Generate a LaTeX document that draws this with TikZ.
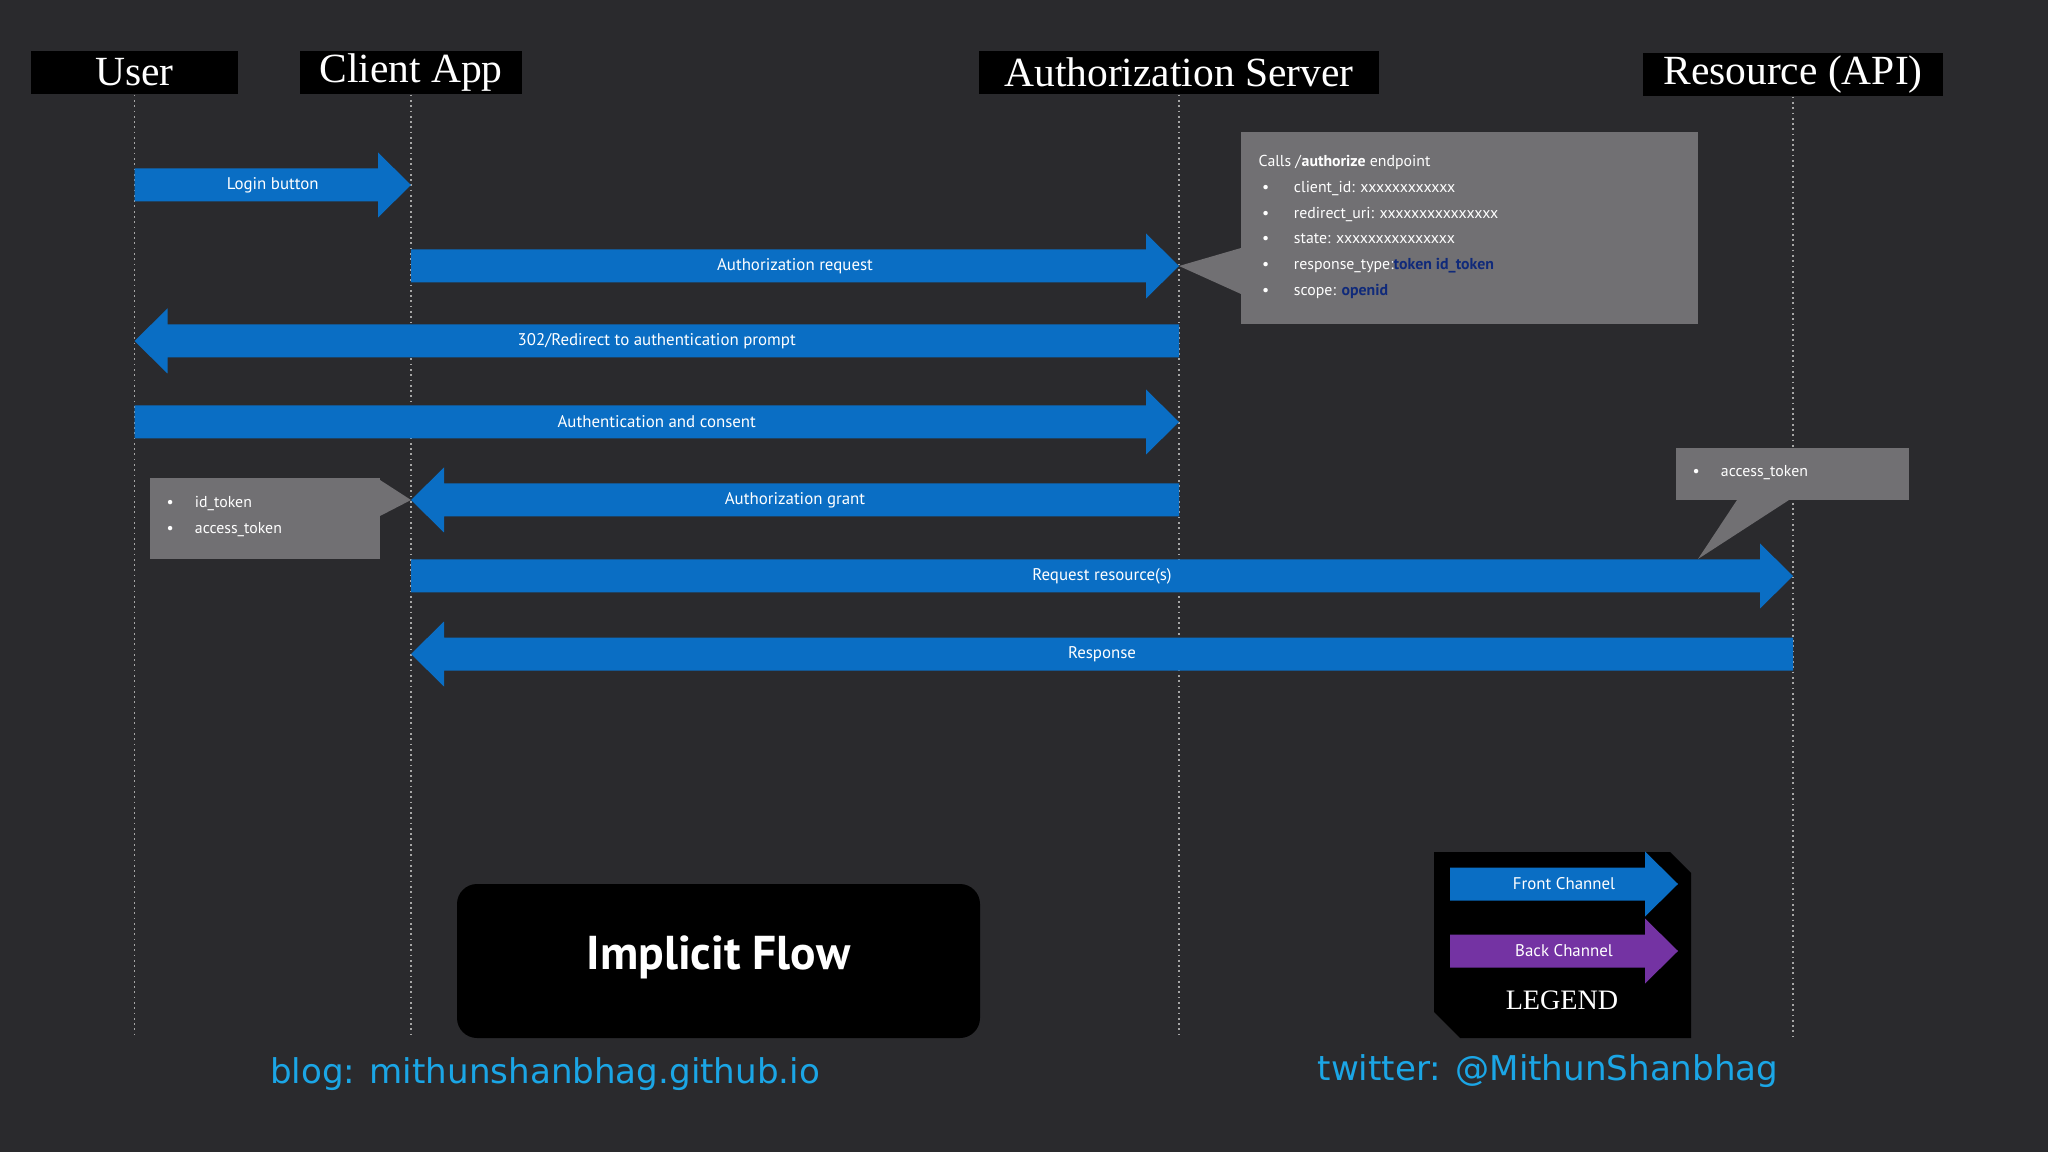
\documentclass[tikz,border=0pt]{standalone}
\usepackage{fontspec}
\setmainfont{Liberation Serif}
\newfontfamily\lab{PT Sans}
\newfontfamily\mono{DejaVu Sans}
\usetikzlibrary{calc}
\definecolor{bgc}{HTML}{2A2A2D}
\definecolor{fc}{HTML}{0A6EC4}
\definecolor{bc}{HTML}{7433A3}
\definecolor{callg}{HTML}{717073}
\definecolor{dblue}{HTML}{102A7A}
\definecolor{cyan}{HTML}{1BA6E6}
\tikzset{
  hdr/.style={fill=black,text=white,font=\fontsize{11.8}{14}\selectfont,inner sep=0pt,anchor=center},
  life/.style={draw=gray!70,line width=0.5pt,densely dotted},
  albl/.style={text=white,font=\lab\fontsize{4.8}{6}\selectfont},
  callout/.style={fill=callg},
  ctext/.style={text=white,font=\lab\fontsize{4.5}{7.3}\selectfont,align=left,anchor=north west,inner sep=0pt}
}
\newcommand\flowarrow[5]{% x1 x2 y label color ; tip at x2
  \pgfmathsetmacro\hx{#2>#1 ? #2-33 : #2+33}
  \fill[#5] (#1,#3-16.5) -- (\hx,#3-16.5) -- (\hx,#3-32.5) -- (#2,#3) -- (\hx,#3+32.5) -- (\hx,#3+16.5) -- (#1,#3+16.5) -- cycle;
  \node[albl] at ({(#1+#2)/2},#3) {#4};
}
\begin{document}
\begin{tikzpicture}[x=0.01cm,y=-0.01cm]
\fill[bgc] (0,0) rectangle (2048,1152);
\useasboundingbox (0,0) rectangle (2048,1152);
% headers
\node[hdr,minimum width=2.07cm,minimum height=0.43cm] (hu) at (134.5,72.5) {User};
\node[hdr,minimum width=2.22cm,minimum height=0.43cm] (hc) at (411,72.5) {Client App};
\node[hdr,minimum width=3.99cm,minimum height=0.43cm] (ha) at (1179,72.5) {Authorization Server};
\node[hdr,minimum width=3.0cm,minimum height=0.43cm] (hr) at (1793,74.5) {Resource (API)};
\coordinate (eu) at (134.5,1038); \coordinate (ec) at (411,1038);
\coordinate (ea) at (1179,1038); \coordinate (er) at (1793,1038);
\draw[life] (hu.south) -- (eu);
\draw[life] (hc.south) -- (ec);
\draw[life] (ha.south) -- (ea);
\draw[life] (hr.south) -- (er);
% callouts
\fill[callout] (1241,132) rectangle (1698,324);
\fill[callout] (1241,248) -- (1179,266) -- (1241,294) -- cycle;
\node[ctext] (c1) at (1258,155) {Calls /\textbf{authorize} endpoint\\
\hspace*{1pt}\textbullet\hspace{7pt}client\_id: xxxxxxxxxxxx\\
\hspace*{1pt}\textbullet\hspace{7pt}redirect\_uri: xxxxxxxxxxxxxxx\\
\hspace*{1pt}\textbullet\hspace{7pt}state: xxxxxxxxxxxxxxx\\
\hspace*{1pt}\textbullet\hspace{7pt}response\_type:\textcolor{dblue}{\textbf{token id\_token}}\\
\hspace*{1pt}\textbullet\hspace{7pt}scope: \textcolor{dblue}{\textbf{openid}}};
\fill[callout] (150,478) rectangle (380,559);
\fill[callout] (380,480) -- (411,500) -- (380,516) -- cycle;
\node[ctext] (c2) at (166,496) {\textbullet\hspace{6pt}id\_token\\\textbullet\hspace{6pt}access\_token};
\fill[callout] (1676,448) rectangle (1909,500);
\fill[callout] (1737,500) -- (1698,559) -- (1789,500) -- cycle;
\node[ctext] (c3) at (1692,465) {\textbullet\hspace{6pt}access\_token};
% arrows
\flowarrow{134.5}{411}{185}{Login button}{fc}
\flowarrow{411}{1179}{266}{Authorization request}{fc}
\flowarrow{1179}{134.5}{341}{302/Redirect to authentication prompt}{fc}
\flowarrow{134.5}{1179}{422}{Authentication and consent}{fc}
\flowarrow{1179}{411}{500}{Authorization grant}{fc}
\flowarrow{411}{1793}{576}{Request resource(s)}{fc}
\flowarrow{1793}{411}{654}{Response}{fc}
% title box
\fill[black,rounded corners=0.2cm] (457,884) rectangle (980,1038);
\node[text=white,font=\lab\bfseries\fontsize{13.5}{16}\selectfont] (title) at (718.5,957) {Implicit Flow};
% legend
\fill[black] (1434,852) -- (1670,852) -- (1691,873) -- (1691,1038) -- (1460,1038) -- (1434,1012) -- cycle;
\flowarrow{1450}{1678}{884}{Front Channel}{fc}
\flowarrow{1450}{1678}{951}{Back Channel}{bc}
\node[text=white,font=\fontsize{8}{10}\selectfont] (leg) at (1562,1000) {LEGEND};
% footer
\node[text=cyan,font=\mono\fontsize{9.7}{11}\selectfont] (blog) at (545,1074) {blog: mithunshanbhag.github.io};
\node[text=cyan,font=\mono\fontsize{9.7}{11}\selectfont] (tw) at (1548,1071) {twitter: @MithunShanbhag};
\end{tikzpicture}
\end{document}
